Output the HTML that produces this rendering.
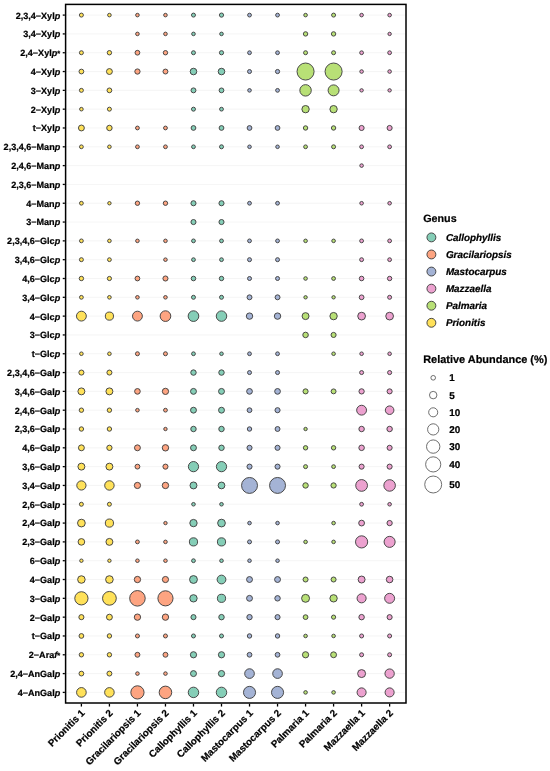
<!DOCTYPE html><html><head><meta charset="utf-8"><title>Bubble plot</title>
<style>html,body{margin:0;padding:0;background:#fff}svg{display:block}text{font-family:"Liberation Sans",Arial,sans-serif;font-weight:bold;fill:#000;stroke:#000;stroke-width:0.22px;text-rendering:geometricPrecision}.it{font-style:italic}</style></head><body>
<svg width="550" height="771" viewBox="0 0 550 771">
<rect width="550" height="771" fill="#fff"/>
<g stroke="#eeeeee" stroke-width="0.6">
<line x1="65.6" x2="406.0" y1="15.10" y2="15.10"/>
<line x1="65.6" x2="406.0" y1="33.91" y2="33.91"/>
<line x1="65.6" x2="406.0" y1="52.73" y2="52.73"/>
<line x1="65.6" x2="406.0" y1="71.54" y2="71.54"/>
<line x1="65.6" x2="406.0" y1="90.36" y2="90.36"/>
<line x1="65.6" x2="406.0" y1="109.17" y2="109.17"/>
<line x1="65.6" x2="406.0" y1="127.98" y2="127.98"/>
<line x1="65.6" x2="406.0" y1="146.80" y2="146.80"/>
<line x1="65.6" x2="406.0" y1="165.61" y2="165.61"/>
<line x1="65.6" x2="406.0" y1="184.43" y2="184.43"/>
<line x1="65.6" x2="406.0" y1="203.24" y2="203.24"/>
<line x1="65.6" x2="406.0" y1="222.05" y2="222.05"/>
<line x1="65.6" x2="406.0" y1="240.87" y2="240.87"/>
<line x1="65.6" x2="406.0" y1="259.68" y2="259.68"/>
<line x1="65.6" x2="406.0" y1="278.50" y2="278.50"/>
<line x1="65.6" x2="406.0" y1="297.31" y2="297.31"/>
<line x1="65.6" x2="406.0" y1="316.12" y2="316.12"/>
<line x1="65.6" x2="406.0" y1="334.94" y2="334.94"/>
<line x1="65.6" x2="406.0" y1="353.75" y2="353.75"/>
<line x1="65.6" x2="406.0" y1="372.57" y2="372.57"/>
<line x1="65.6" x2="406.0" y1="391.38" y2="391.38"/>
<line x1="65.6" x2="406.0" y1="410.19" y2="410.19"/>
<line x1="65.6" x2="406.0" y1="429.01" y2="429.01"/>
<line x1="65.6" x2="406.0" y1="447.82" y2="447.82"/>
<line x1="65.6" x2="406.0" y1="466.64" y2="466.64"/>
<line x1="65.6" x2="406.0" y1="485.45" y2="485.45"/>
<line x1="65.6" x2="406.0" y1="504.26" y2="504.26"/>
<line x1="65.6" x2="406.0" y1="523.08" y2="523.08"/>
<line x1="65.6" x2="406.0" y1="541.89" y2="541.89"/>
<line x1="65.6" x2="406.0" y1="560.71" y2="560.71"/>
<line x1="65.6" x2="406.0" y1="579.52" y2="579.52"/>
<line x1="65.6" x2="406.0" y1="598.33" y2="598.33"/>
<line x1="65.6" x2="406.0" y1="617.15" y2="617.15"/>
<line x1="65.6" x2="406.0" y1="635.96" y2="635.96"/>
<line x1="65.6" x2="406.0" y1="654.78" y2="654.78"/>
<line x1="65.6" x2="406.0" y1="673.59" y2="673.59"/>
<line x1="65.6" x2="406.0" y1="692.40" y2="692.40"/>
</g>
<g stroke="#404040" stroke-width="0.95">
<circle cx="81.40" cy="15.10" r="2.00" fill="#FFE159"/>
<circle cx="109.42" cy="15.10" r="1.80" fill="#FFE159"/>
<circle cx="137.44" cy="15.10" r="1.80" fill="#FDA481"/>
<circle cx="165.46" cy="15.10" r="1.80" fill="#FDA481"/>
<circle cx="193.48" cy="15.10" r="2.00" fill="#85CEB7"/>
<circle cx="221.50" cy="15.10" r="2.10" fill="#85CEB7"/>
<circle cx="249.52" cy="15.10" r="1.90" fill="#A4B3D5"/>
<circle cx="277.54" cy="15.10" r="1.90" fill="#A4B3D5"/>
<circle cx="305.56" cy="15.10" r="1.80" fill="#B8E076"/>
<circle cx="333.58" cy="15.10" r="2.00" fill="#B8E076"/>
<circle cx="361.60" cy="15.10" r="1.80" fill="#ECA1CF"/>
<circle cx="389.62" cy="15.10" r="1.80" fill="#ECA1CF"/>
<circle cx="137.44" cy="33.91" r="1.80" fill="#FDA481"/>
<circle cx="165.46" cy="33.91" r="1.80" fill="#FDA481"/>
<circle cx="193.48" cy="33.91" r="1.80" fill="#85CEB7"/>
<circle cx="221.50" cy="33.91" r="1.80" fill="#85CEB7"/>
<circle cx="305.56" cy="33.91" r="2.20" fill="#B8E076"/>
<circle cx="333.58" cy="33.91" r="2.20" fill="#B8E076"/>
<circle cx="389.62" cy="33.91" r="1.70" fill="#ECA1CF"/>
<circle cx="81.40" cy="52.73" r="2.00" fill="#FFE159"/>
<circle cx="109.42" cy="52.73" r="2.20" fill="#FFE159"/>
<circle cx="137.44" cy="52.73" r="2.38" fill="#FDA481"/>
<circle cx="165.46" cy="52.73" r="2.20" fill="#FDA481"/>
<circle cx="193.48" cy="52.73" r="2.00" fill="#85CEB7"/>
<circle cx="221.50" cy="52.73" r="2.10" fill="#85CEB7"/>
<circle cx="249.52" cy="52.73" r="1.90" fill="#A4B3D5"/>
<circle cx="277.54" cy="52.73" r="1.90" fill="#A4B3D5"/>
<circle cx="305.56" cy="52.73" r="2.00" fill="#B8E076"/>
<circle cx="333.58" cy="52.73" r="2.00" fill="#B8E076"/>
<circle cx="361.60" cy="52.73" r="1.90" fill="#ECA1CF"/>
<circle cx="389.62" cy="52.73" r="1.90" fill="#ECA1CF"/>
<circle cx="81.40" cy="71.54" r="2.38" fill="#FFE159"/>
<circle cx="109.42" cy="71.54" r="2.95" fill="#FFE159"/>
<circle cx="137.44" cy="71.54" r="2.64" fill="#FDA481"/>
<circle cx="165.46" cy="71.54" r="2.46" fill="#FDA481"/>
<circle cx="193.48" cy="71.54" r="3.30" fill="#85CEB7"/>
<circle cx="221.50" cy="71.54" r="3.30" fill="#85CEB7"/>
<circle cx="249.52" cy="71.54" r="2.00" fill="#A4B3D5"/>
<circle cx="277.54" cy="71.54" r="2.10" fill="#A4B3D5"/>
<circle cx="305.56" cy="71.54" r="8.53" fill="#B8E076"/>
<circle cx="333.58" cy="71.54" r="8.53" fill="#B8E076"/>
<circle cx="361.60" cy="71.54" r="1.80" fill="#ECA1CF"/>
<circle cx="389.62" cy="71.54" r="1.80" fill="#ECA1CF"/>
<circle cx="81.40" cy="90.36" r="2.00" fill="#FFE159"/>
<circle cx="109.42" cy="90.36" r="2.38" fill="#FFE159"/>
<circle cx="193.48" cy="90.36" r="2.46" fill="#85CEB7"/>
<circle cx="221.50" cy="90.36" r="2.38" fill="#85CEB7"/>
<circle cx="249.52" cy="90.36" r="1.80" fill="#A4B3D5"/>
<circle cx="277.54" cy="90.36" r="1.90" fill="#A4B3D5"/>
<circle cx="305.56" cy="90.36" r="5.73" fill="#B8E076"/>
<circle cx="333.58" cy="90.36" r="5.48" fill="#B8E076"/>
<circle cx="361.60" cy="90.36" r="1.70" fill="#ECA1CF"/>
<circle cx="389.62" cy="90.36" r="1.70" fill="#ECA1CF"/>
<circle cx="81.40" cy="109.17" r="1.80" fill="#FFE159"/>
<circle cx="109.42" cy="109.17" r="2.00" fill="#FFE159"/>
<circle cx="193.48" cy="109.17" r="2.00" fill="#85CEB7"/>
<circle cx="221.50" cy="109.17" r="1.90" fill="#85CEB7"/>
<circle cx="305.56" cy="109.17" r="3.68" fill="#B8E076"/>
<circle cx="333.58" cy="109.17" r="3.68" fill="#B8E076"/>
<circle cx="81.40" cy="127.98" r="2.95" fill="#FFE159"/>
<circle cx="109.42" cy="127.98" r="2.73" fill="#FFE159"/>
<circle cx="137.44" cy="127.98" r="1.90" fill="#FDA481"/>
<circle cx="165.46" cy="127.98" r="1.90" fill="#FDA481"/>
<circle cx="193.48" cy="127.98" r="2.38" fill="#85CEB7"/>
<circle cx="221.50" cy="127.98" r="2.38" fill="#85CEB7"/>
<circle cx="249.52" cy="127.98" r="2.38" fill="#A4B3D5"/>
<circle cx="277.54" cy="127.98" r="2.38" fill="#A4B3D5"/>
<circle cx="305.56" cy="127.98" r="2.20" fill="#B8E076"/>
<circle cx="333.58" cy="127.98" r="2.20" fill="#B8E076"/>
<circle cx="361.60" cy="127.98" r="2.55" fill="#ECA1CF"/>
<circle cx="389.62" cy="127.98" r="2.55" fill="#ECA1CF"/>
<circle cx="81.40" cy="146.80" r="1.90" fill="#FFE159"/>
<circle cx="109.42" cy="146.80" r="1.80" fill="#FFE159"/>
<circle cx="137.44" cy="146.80" r="1.90" fill="#FDA481"/>
<circle cx="165.46" cy="146.80" r="1.90" fill="#FDA481"/>
<circle cx="193.48" cy="146.80" r="1.90" fill="#85CEB7"/>
<circle cx="221.50" cy="146.80" r="2.00" fill="#85CEB7"/>
<circle cx="249.52" cy="146.80" r="1.80" fill="#A4B3D5"/>
<circle cx="277.54" cy="146.80" r="1.80" fill="#A4B3D5"/>
<circle cx="305.56" cy="146.80" r="1.90" fill="#B8E076"/>
<circle cx="333.58" cy="146.80" r="2.00" fill="#B8E076"/>
<circle cx="361.60" cy="146.80" r="1.90" fill="#ECA1CF"/>
<circle cx="389.62" cy="146.80" r="1.90" fill="#ECA1CF"/>
<circle cx="361.60" cy="165.61" r="1.80" fill="#ECA1CF"/>
<circle cx="81.40" cy="203.24" r="1.90" fill="#FFE159"/>
<circle cx="109.42" cy="203.24" r="1.70" fill="#FFE159"/>
<circle cx="137.44" cy="203.24" r="2.20" fill="#FDA481"/>
<circle cx="165.46" cy="203.24" r="2.20" fill="#FDA481"/>
<circle cx="193.48" cy="203.24" r="2.55" fill="#85CEB7"/>
<circle cx="221.50" cy="203.24" r="2.55" fill="#85CEB7"/>
<circle cx="249.52" cy="203.24" r="1.90" fill="#A4B3D5"/>
<circle cx="277.54" cy="203.24" r="1.90" fill="#A4B3D5"/>
<circle cx="361.60" cy="203.24" r="1.80" fill="#ECA1CF"/>
<circle cx="389.62" cy="203.24" r="1.80" fill="#ECA1CF"/>
<circle cx="193.48" cy="222.05" r="2.55" fill="#85CEB7"/>
<circle cx="221.50" cy="222.05" r="2.55" fill="#85CEB7"/>
<circle cx="81.40" cy="240.87" r="1.90" fill="#FFE159"/>
<circle cx="109.42" cy="240.87" r="1.80" fill="#FFE159"/>
<circle cx="137.44" cy="240.87" r="1.80" fill="#FDA481"/>
<circle cx="165.46" cy="240.87" r="1.80" fill="#FDA481"/>
<circle cx="193.48" cy="240.87" r="1.90" fill="#85CEB7"/>
<circle cx="221.50" cy="240.87" r="1.90" fill="#85CEB7"/>
<circle cx="249.52" cy="240.87" r="1.90" fill="#A4B3D5"/>
<circle cx="277.54" cy="240.87" r="1.90" fill="#A4B3D5"/>
<circle cx="305.56" cy="240.87" r="1.80" fill="#B8E076"/>
<circle cx="333.58" cy="240.87" r="1.80" fill="#B8E076"/>
<circle cx="361.60" cy="240.87" r="1.90" fill="#ECA1CF"/>
<circle cx="389.62" cy="240.87" r="1.90" fill="#ECA1CF"/>
<circle cx="81.40" cy="259.68" r="2.00" fill="#FFE159"/>
<circle cx="109.42" cy="259.68" r="1.90" fill="#FFE159"/>
<circle cx="165.46" cy="259.68" r="1.80" fill="#FDA481"/>
<circle cx="193.48" cy="259.68" r="1.90" fill="#85CEB7"/>
<circle cx="221.50" cy="259.68" r="1.90" fill="#85CEB7"/>
<circle cx="249.52" cy="259.68" r="2.00" fill="#A4B3D5"/>
<circle cx="277.54" cy="259.68" r="2.00" fill="#A4B3D5"/>
<circle cx="361.60" cy="259.68" r="1.95" fill="#ECA1CF"/>
<circle cx="389.62" cy="259.68" r="1.90" fill="#ECA1CF"/>
<circle cx="81.40" cy="278.50" r="2.20" fill="#FFE159"/>
<circle cx="109.42" cy="278.50" r="2.10" fill="#FFE159"/>
<circle cx="137.44" cy="278.50" r="2.38" fill="#FDA481"/>
<circle cx="165.46" cy="278.50" r="2.55" fill="#FDA481"/>
<circle cx="193.48" cy="278.50" r="2.29" fill="#85CEB7"/>
<circle cx="221.50" cy="278.50" r="2.20" fill="#85CEB7"/>
<circle cx="249.52" cy="278.50" r="2.00" fill="#A4B3D5"/>
<circle cx="277.54" cy="278.50" r="2.00" fill="#A4B3D5"/>
<circle cx="305.56" cy="278.50" r="1.80" fill="#B8E076"/>
<circle cx="333.58" cy="278.50" r="1.90" fill="#B8E076"/>
<circle cx="361.60" cy="278.50" r="2.29" fill="#ECA1CF"/>
<circle cx="389.62" cy="278.50" r="2.20" fill="#ECA1CF"/>
<circle cx="81.40" cy="297.31" r="1.90" fill="#FFE159"/>
<circle cx="109.42" cy="297.31" r="1.80" fill="#FFE159"/>
<circle cx="137.44" cy="297.31" r="1.80" fill="#FDA481"/>
<circle cx="165.46" cy="297.31" r="1.80" fill="#FDA481"/>
<circle cx="193.48" cy="297.31" r="2.00" fill="#85CEB7"/>
<circle cx="221.50" cy="297.31" r="2.00" fill="#85CEB7"/>
<circle cx="249.52" cy="297.31" r="2.46" fill="#A4B3D5"/>
<circle cx="277.54" cy="297.31" r="2.46" fill="#A4B3D5"/>
<circle cx="305.56" cy="297.31" r="1.70" fill="#B8E076"/>
<circle cx="333.58" cy="297.31" r="1.70" fill="#B8E076"/>
<circle cx="361.60" cy="297.31" r="2.38" fill="#ECA1CF"/>
<circle cx="389.62" cy="297.31" r="2.00" fill="#ECA1CF"/>
<circle cx="81.40" cy="316.12" r="4.93" fill="#FFE159"/>
<circle cx="109.42" cy="316.12" r="4.08" fill="#FFE159"/>
<circle cx="137.44" cy="316.12" r="4.93" fill="#FDA481"/>
<circle cx="165.46" cy="316.12" r="5.33" fill="#FDA481"/>
<circle cx="193.48" cy="316.12" r="5.33" fill="#85CEB7"/>
<circle cx="221.50" cy="316.12" r="5.23" fill="#85CEB7"/>
<circle cx="249.52" cy="316.12" r="3.21" fill="#A4B3D5"/>
<circle cx="277.54" cy="316.12" r="3.21" fill="#A4B3D5"/>
<circle cx="305.56" cy="316.12" r="3.48" fill="#B8E076"/>
<circle cx="333.58" cy="316.12" r="3.68" fill="#B8E076"/>
<circle cx="361.60" cy="316.12" r="3.87" fill="#ECA1CF"/>
<circle cx="389.62" cy="316.12" r="3.87" fill="#ECA1CF"/>
<circle cx="305.56" cy="334.94" r="2.77" fill="#B8E076"/>
<circle cx="333.58" cy="334.94" r="2.55" fill="#B8E076"/>
<circle cx="81.40" cy="353.75" r="1.80" fill="#FFE159"/>
<circle cx="109.42" cy="353.75" r="1.80" fill="#FFE159"/>
<circle cx="137.44" cy="353.75" r="2.00" fill="#FDA481"/>
<circle cx="165.46" cy="353.75" r="2.00" fill="#FDA481"/>
<circle cx="193.48" cy="353.75" r="1.90" fill="#85CEB7"/>
<circle cx="221.50" cy="353.75" r="1.80" fill="#85CEB7"/>
<circle cx="249.52" cy="353.75" r="1.90" fill="#A4B3D5"/>
<circle cx="277.54" cy="353.75" r="1.90" fill="#A4B3D5"/>
<circle cx="333.58" cy="353.75" r="1.80" fill="#B8E076"/>
<circle cx="361.60" cy="353.75" r="1.80" fill="#ECA1CF"/>
<circle cx="389.62" cy="353.75" r="1.80" fill="#ECA1CF"/>
<circle cx="81.40" cy="372.57" r="2.55" fill="#FFE159"/>
<circle cx="109.42" cy="372.57" r="2.51" fill="#FFE159"/>
<circle cx="193.48" cy="372.57" r="2.73" fill="#85CEB7"/>
<circle cx="221.50" cy="372.57" r="2.73" fill="#85CEB7"/>
<circle cx="249.52" cy="372.57" r="2.00" fill="#A4B3D5"/>
<circle cx="277.54" cy="372.57" r="2.00" fill="#A4B3D5"/>
<circle cx="361.60" cy="372.57" r="2.00" fill="#ECA1CF"/>
<circle cx="389.62" cy="372.57" r="2.05" fill="#ECA1CF"/>
<circle cx="81.40" cy="391.38" r="3.48" fill="#FFE159"/>
<circle cx="109.42" cy="391.38" r="3.48" fill="#FFE159"/>
<circle cx="137.44" cy="391.38" r="2.82" fill="#FDA481"/>
<circle cx="165.46" cy="391.38" r="3.12" fill="#FDA481"/>
<circle cx="193.48" cy="391.38" r="2.95" fill="#85CEB7"/>
<circle cx="221.50" cy="391.38" r="2.95" fill="#85CEB7"/>
<circle cx="249.52" cy="391.38" r="2.86" fill="#A4B3D5"/>
<circle cx="277.54" cy="391.38" r="2.86" fill="#A4B3D5"/>
<circle cx="305.56" cy="391.38" r="2.55" fill="#B8E076"/>
<circle cx="333.58" cy="391.38" r="2.46" fill="#B8E076"/>
<circle cx="361.60" cy="391.38" r="2.64" fill="#ECA1CF"/>
<circle cx="389.62" cy="391.38" r="2.55" fill="#ECA1CF"/>
<circle cx="81.40" cy="410.19" r="2.20" fill="#FFE159"/>
<circle cx="109.42" cy="410.19" r="2.20" fill="#FFE159"/>
<circle cx="137.44" cy="410.19" r="1.80" fill="#FDA481"/>
<circle cx="165.46" cy="410.19" r="1.90" fill="#FDA481"/>
<circle cx="193.48" cy="410.19" r="2.95" fill="#85CEB7"/>
<circle cx="221.50" cy="410.19" r="2.95" fill="#85CEB7"/>
<circle cx="249.52" cy="410.19" r="2.38" fill="#A4B3D5"/>
<circle cx="277.54" cy="410.19" r="2.55" fill="#A4B3D5"/>
<circle cx="361.60" cy="410.19" r="4.93" fill="#ECA1CF"/>
<circle cx="389.62" cy="410.19" r="4.28" fill="#ECA1CF"/>
<circle cx="81.40" cy="429.01" r="2.20" fill="#FFE159"/>
<circle cx="109.42" cy="429.01" r="2.20" fill="#FFE159"/>
<circle cx="165.46" cy="429.01" r="1.70" fill="#FDA481"/>
<circle cx="193.48" cy="429.01" r="2.73" fill="#85CEB7"/>
<circle cx="221.50" cy="429.01" r="2.73" fill="#85CEB7"/>
<circle cx="249.52" cy="429.01" r="2.20" fill="#A4B3D5"/>
<circle cx="277.54" cy="429.01" r="2.46" fill="#A4B3D5"/>
<circle cx="305.56" cy="429.01" r="1.70" fill="#B8E076"/>
<circle cx="361.60" cy="429.01" r="2.73" fill="#ECA1CF"/>
<circle cx="389.62" cy="429.01" r="2.73" fill="#ECA1CF"/>
<circle cx="81.40" cy="447.82" r="2.95" fill="#FFE159"/>
<circle cx="109.42" cy="447.82" r="2.64" fill="#FFE159"/>
<circle cx="137.44" cy="447.82" r="2.95" fill="#FDA481"/>
<circle cx="165.46" cy="447.82" r="3.21" fill="#FDA481"/>
<circle cx="193.48" cy="447.82" r="2.95" fill="#85CEB7"/>
<circle cx="221.50" cy="447.82" r="2.73" fill="#85CEB7"/>
<circle cx="249.52" cy="447.82" r="2.55" fill="#A4B3D5"/>
<circle cx="277.54" cy="447.82" r="2.55" fill="#A4B3D5"/>
<circle cx="305.56" cy="447.82" r="2.20" fill="#B8E076"/>
<circle cx="333.58" cy="447.82" r="2.20" fill="#B8E076"/>
<circle cx="361.60" cy="447.82" r="2.77" fill="#ECA1CF"/>
<circle cx="389.62" cy="447.82" r="2.55" fill="#ECA1CF"/>
<circle cx="81.40" cy="466.64" r="3.48" fill="#FFE159"/>
<circle cx="109.42" cy="466.64" r="3.48" fill="#FFE159"/>
<circle cx="137.44" cy="466.64" r="2.42" fill="#FDA481"/>
<circle cx="165.46" cy="466.64" r="2.55" fill="#FDA481"/>
<circle cx="193.48" cy="466.64" r="5.12" fill="#85CEB7"/>
<circle cx="221.50" cy="466.64" r="5.12" fill="#85CEB7"/>
<circle cx="249.52" cy="466.64" r="2.55" fill="#A4B3D5"/>
<circle cx="277.54" cy="466.64" r="2.55" fill="#A4B3D5"/>
<circle cx="305.56" cy="466.64" r="2.00" fill="#B8E076"/>
<circle cx="333.58" cy="466.64" r="1.90" fill="#B8E076"/>
<circle cx="361.60" cy="466.64" r="2.55" fill="#ECA1CF"/>
<circle cx="389.62" cy="466.64" r="2.55" fill="#ECA1CF"/>
<circle cx="81.40" cy="485.45" r="4.62" fill="#FFE159"/>
<circle cx="109.42" cy="485.45" r="4.73" fill="#FFE159"/>
<circle cx="137.44" cy="485.45" r="3.12" fill="#FDA481"/>
<circle cx="165.46" cy="485.45" r="3.21" fill="#FDA481"/>
<circle cx="193.48" cy="485.45" r="3.48" fill="#85CEB7"/>
<circle cx="221.50" cy="485.45" r="3.39" fill="#85CEB7"/>
<circle cx="249.52" cy="485.45" r="7.97" fill="#A4B3D5"/>
<circle cx="277.54" cy="485.45" r="7.97" fill="#A4B3D5"/>
<circle cx="305.56" cy="485.45" r="2.73" fill="#B8E076"/>
<circle cx="333.58" cy="485.45" r="2.64" fill="#B8E076"/>
<circle cx="361.60" cy="485.45" r="5.88" fill="#ECA1CF"/>
<circle cx="389.62" cy="485.45" r="5.78" fill="#ECA1CF"/>
<circle cx="81.40" cy="504.26" r="2.00" fill="#FFE159"/>
<circle cx="109.42" cy="504.26" r="2.00" fill="#FFE159"/>
<circle cx="193.48" cy="504.26" r="1.80" fill="#85CEB7"/>
<circle cx="221.50" cy="504.26" r="1.80" fill="#85CEB7"/>
<circle cx="361.60" cy="504.26" r="1.90" fill="#ECA1CF"/>
<circle cx="389.62" cy="504.26" r="1.80" fill="#ECA1CF"/>
<circle cx="81.40" cy="523.08" r="3.87" fill="#FFE159"/>
<circle cx="109.42" cy="523.08" r="4.08" fill="#FFE159"/>
<circle cx="165.46" cy="523.08" r="1.70" fill="#FDA481"/>
<circle cx="193.48" cy="523.08" r="3.68" fill="#85CEB7"/>
<circle cx="221.50" cy="523.08" r="3.87" fill="#85CEB7"/>
<circle cx="249.52" cy="523.08" r="1.80" fill="#A4B3D5"/>
<circle cx="277.54" cy="523.08" r="1.80" fill="#A4B3D5"/>
<circle cx="333.58" cy="523.08" r="1.80" fill="#B8E076"/>
<circle cx="361.60" cy="523.08" r="2.90" fill="#ECA1CF"/>
<circle cx="389.62" cy="523.08" r="2.64" fill="#ECA1CF"/>
<circle cx="81.40" cy="541.89" r="3.30" fill="#FFE159"/>
<circle cx="109.42" cy="541.89" r="3.48" fill="#FFE159"/>
<circle cx="137.44" cy="541.89" r="1.90" fill="#FDA481"/>
<circle cx="165.46" cy="541.89" r="1.80" fill="#FDA481"/>
<circle cx="193.48" cy="541.89" r="4.08" fill="#85CEB7"/>
<circle cx="221.50" cy="541.89" r="4.08" fill="#85CEB7"/>
<circle cx="249.52" cy="541.89" r="2.00" fill="#A4B3D5"/>
<circle cx="277.54" cy="541.89" r="2.00" fill="#A4B3D5"/>
<circle cx="305.56" cy="541.89" r="1.80" fill="#B8E076"/>
<circle cx="333.58" cy="541.89" r="1.80" fill="#B8E076"/>
<circle cx="361.60" cy="541.89" r="6.08" fill="#ECA1CF"/>
<circle cx="389.62" cy="541.89" r="5.53" fill="#ECA1CF"/>
<circle cx="81.40" cy="560.71" r="1.70" fill="#FFE159"/>
<circle cx="109.42" cy="560.71" r="1.70" fill="#FFE159"/>
<circle cx="137.44" cy="560.71" r="1.80" fill="#FDA481"/>
<circle cx="165.46" cy="560.71" r="1.80" fill="#FDA481"/>
<circle cx="193.48" cy="560.71" r="1.90" fill="#85CEB7"/>
<circle cx="221.50" cy="560.71" r="1.80" fill="#85CEB7"/>
<circle cx="249.52" cy="560.71" r="1.80" fill="#A4B3D5"/>
<circle cx="277.54" cy="560.71" r="1.80" fill="#A4B3D5"/>
<circle cx="81.40" cy="579.52" r="3.77" fill="#FFE159"/>
<circle cx="109.42" cy="579.52" r="3.82" fill="#FFE159"/>
<circle cx="137.44" cy="579.52" r="3.17" fill="#FDA481"/>
<circle cx="165.46" cy="579.52" r="3.08" fill="#FDA481"/>
<circle cx="193.48" cy="579.52" r="3.93" fill="#85CEB7"/>
<circle cx="221.50" cy="579.52" r="4.38" fill="#85CEB7"/>
<circle cx="249.52" cy="579.52" r="2.95" fill="#A4B3D5"/>
<circle cx="277.54" cy="579.52" r="2.95" fill="#A4B3D5"/>
<circle cx="305.56" cy="579.52" r="2.51" fill="#B8E076"/>
<circle cx="333.58" cy="579.52" r="2.51" fill="#B8E076"/>
<circle cx="361.60" cy="579.52" r="3.48" fill="#ECA1CF"/>
<circle cx="389.62" cy="579.52" r="3.30" fill="#ECA1CF"/>
<circle cx="81.40" cy="598.33" r="6.62" fill="#FFE159"/>
<circle cx="109.42" cy="598.33" r="6.88" fill="#FFE159"/>
<circle cx="137.44" cy="598.33" r="7.78" fill="#FDA481"/>
<circle cx="165.46" cy="598.33" r="7.58" fill="#FDA481"/>
<circle cx="193.48" cy="598.33" r="3.68" fill="#85CEB7"/>
<circle cx="221.50" cy="598.33" r="4.08" fill="#85CEB7"/>
<circle cx="249.52" cy="598.33" r="2.95" fill="#A4B3D5"/>
<circle cx="277.54" cy="598.33" r="2.73" fill="#A4B3D5"/>
<circle cx="305.56" cy="598.33" r="3.98" fill="#B8E076"/>
<circle cx="333.58" cy="598.33" r="3.68" fill="#B8E076"/>
<circle cx="361.60" cy="598.33" r="4.53" fill="#ECA1CF"/>
<circle cx="389.62" cy="598.33" r="4.98" fill="#ECA1CF"/>
<circle cx="81.40" cy="617.15" r="2.55" fill="#FFE159"/>
<circle cx="109.42" cy="617.15" r="2.95" fill="#FFE159"/>
<circle cx="137.44" cy="617.15" r="3.17" fill="#FDA481"/>
<circle cx="165.46" cy="617.15" r="3.17" fill="#FDA481"/>
<circle cx="193.48" cy="617.15" r="2.55" fill="#85CEB7"/>
<circle cx="221.50" cy="617.15" r="2.73" fill="#85CEB7"/>
<circle cx="249.52" cy="617.15" r="2.68" fill="#A4B3D5"/>
<circle cx="277.54" cy="617.15" r="2.55" fill="#A4B3D5"/>
<circle cx="305.56" cy="617.15" r="2.38" fill="#B8E076"/>
<circle cx="333.58" cy="617.15" r="2.10" fill="#B8E076"/>
<circle cx="361.60" cy="617.15" r="2.73" fill="#ECA1CF"/>
<circle cx="389.62" cy="617.15" r="2.55" fill="#ECA1CF"/>
<circle cx="81.40" cy="635.96" r="2.38" fill="#FFE159"/>
<circle cx="109.42" cy="635.96" r="2.20" fill="#FFE159"/>
<circle cx="137.44" cy="635.96" r="2.00" fill="#FDA481"/>
<circle cx="165.46" cy="635.96" r="2.00" fill="#FDA481"/>
<circle cx="193.48" cy="635.96" r="2.00" fill="#85CEB7"/>
<circle cx="221.50" cy="635.96" r="2.00" fill="#85CEB7"/>
<circle cx="249.52" cy="635.96" r="2.20" fill="#A4B3D5"/>
<circle cx="277.54" cy="635.96" r="2.20" fill="#A4B3D5"/>
<circle cx="305.56" cy="635.96" r="1.80" fill="#B8E076"/>
<circle cx="333.58" cy="635.96" r="1.80" fill="#B8E076"/>
<circle cx="361.60" cy="635.96" r="2.00" fill="#ECA1CF"/>
<circle cx="389.62" cy="635.96" r="2.00" fill="#ECA1CF"/>
<circle cx="81.40" cy="654.78" r="2.20" fill="#FFE159"/>
<circle cx="109.42" cy="654.78" r="2.20" fill="#FFE159"/>
<circle cx="137.44" cy="654.78" r="2.46" fill="#FDA481"/>
<circle cx="165.46" cy="654.78" r="2.46" fill="#FDA481"/>
<circle cx="193.48" cy="654.78" r="3.12" fill="#85CEB7"/>
<circle cx="221.50" cy="654.78" r="3.12" fill="#85CEB7"/>
<circle cx="249.52" cy="654.78" r="2.38" fill="#A4B3D5"/>
<circle cx="277.54" cy="654.78" r="2.38" fill="#A4B3D5"/>
<circle cx="305.56" cy="654.78" r="3.12" fill="#B8E076"/>
<circle cx="333.58" cy="654.78" r="2.95" fill="#B8E076"/>
<circle cx="361.60" cy="654.78" r="2.00" fill="#ECA1CF"/>
<circle cx="389.62" cy="654.78" r="2.00" fill="#ECA1CF"/>
<circle cx="81.40" cy="673.59" r="2.38" fill="#FFE159"/>
<circle cx="109.42" cy="673.59" r="2.46" fill="#FFE159"/>
<circle cx="137.44" cy="673.59" r="1.80" fill="#FDA481"/>
<circle cx="165.46" cy="673.59" r="1.80" fill="#FDA481"/>
<circle cx="193.48" cy="673.59" r="2.99" fill="#85CEB7"/>
<circle cx="221.50" cy="673.59" r="3.12" fill="#85CEB7"/>
<circle cx="249.52" cy="673.59" r="4.83" fill="#A4B3D5"/>
<circle cx="277.54" cy="673.59" r="4.83" fill="#A4B3D5"/>
<circle cx="361.60" cy="673.59" r="3.98" fill="#ECA1CF"/>
<circle cx="389.62" cy="673.59" r="4.68" fill="#ECA1CF"/>
<circle cx="81.40" cy="692.40" r="4.83" fill="#FFE159"/>
<circle cx="109.42" cy="692.40" r="4.78" fill="#FFE159"/>
<circle cx="137.44" cy="692.40" r="6.62" fill="#FDA481"/>
<circle cx="165.46" cy="692.40" r="6.28" fill="#FDA481"/>
<circle cx="193.48" cy="692.40" r="5.23" fill="#85CEB7"/>
<circle cx="221.50" cy="692.40" r="5.23" fill="#85CEB7"/>
<circle cx="249.52" cy="692.40" r="6.03" fill="#A4B3D5"/>
<circle cx="277.54" cy="692.40" r="6.03" fill="#A4B3D5"/>
<circle cx="305.56" cy="692.40" r="1.80" fill="#B8E076"/>
<circle cx="333.58" cy="692.40" r="1.80" fill="#B8E076"/>
<circle cx="361.60" cy="692.40" r="4.53" fill="#ECA1CF"/>
<circle cx="389.62" cy="692.40" r="4.53" fill="#ECA1CF"/>
</g>
<rect x="65.6" y="4.4" width="340.4" height="698.6" fill="none" stroke="#000" stroke-width="1.5"/>
<g stroke="#000" stroke-width="1.3">
<line x1="62.75" x2="64.85" y1="15.10" y2="15.10"/>
<line x1="62.75" x2="64.85" y1="33.91" y2="33.91"/>
<line x1="62.75" x2="64.85" y1="52.73" y2="52.73"/>
<line x1="62.75" x2="64.85" y1="71.54" y2="71.54"/>
<line x1="62.75" x2="64.85" y1="90.36" y2="90.36"/>
<line x1="62.75" x2="64.85" y1="109.17" y2="109.17"/>
<line x1="62.75" x2="64.85" y1="127.98" y2="127.98"/>
<line x1="62.75" x2="64.85" y1="146.80" y2="146.80"/>
<line x1="62.75" x2="64.85" y1="165.61" y2="165.61"/>
<line x1="62.75" x2="64.85" y1="184.43" y2="184.43"/>
<line x1="62.75" x2="64.85" y1="203.24" y2="203.24"/>
<line x1="62.75" x2="64.85" y1="222.05" y2="222.05"/>
<line x1="62.75" x2="64.85" y1="240.87" y2="240.87"/>
<line x1="62.75" x2="64.85" y1="259.68" y2="259.68"/>
<line x1="62.75" x2="64.85" y1="278.50" y2="278.50"/>
<line x1="62.75" x2="64.85" y1="297.31" y2="297.31"/>
<line x1="62.75" x2="64.85" y1="316.12" y2="316.12"/>
<line x1="62.75" x2="64.85" y1="334.94" y2="334.94"/>
<line x1="62.75" x2="64.85" y1="353.75" y2="353.75"/>
<line x1="62.75" x2="64.85" y1="372.57" y2="372.57"/>
<line x1="62.75" x2="64.85" y1="391.38" y2="391.38"/>
<line x1="62.75" x2="64.85" y1="410.19" y2="410.19"/>
<line x1="62.75" x2="64.85" y1="429.01" y2="429.01"/>
<line x1="62.75" x2="64.85" y1="447.82" y2="447.82"/>
<line x1="62.75" x2="64.85" y1="466.64" y2="466.64"/>
<line x1="62.75" x2="64.85" y1="485.45" y2="485.45"/>
<line x1="62.75" x2="64.85" y1="504.26" y2="504.26"/>
<line x1="62.75" x2="64.85" y1="523.08" y2="523.08"/>
<line x1="62.75" x2="64.85" y1="541.89" y2="541.89"/>
<line x1="62.75" x2="64.85" y1="560.71" y2="560.71"/>
<line x1="62.75" x2="64.85" y1="579.52" y2="579.52"/>
<line x1="62.75" x2="64.85" y1="598.33" y2="598.33"/>
<line x1="62.75" x2="64.85" y1="617.15" y2="617.15"/>
<line x1="62.75" x2="64.85" y1="635.96" y2="635.96"/>
<line x1="62.75" x2="64.85" y1="654.78" y2="654.78"/>
<line x1="62.75" x2="64.85" y1="673.59" y2="673.59"/>
<line x1="62.75" x2="64.85" y1="692.40" y2="692.40"/>
<line x1="81.40" x2="81.40" y1="703.75" y2="706.55"/>
<line x1="109.42" x2="109.42" y1="703.75" y2="706.55"/>
<line x1="137.44" x2="137.44" y1="703.75" y2="706.55"/>
<line x1="165.46" x2="165.46" y1="703.75" y2="706.55"/>
<line x1="193.48" x2="193.48" y1="703.75" y2="706.55"/>
<line x1="221.50" x2="221.50" y1="703.75" y2="706.55"/>
<line x1="249.52" x2="249.52" y1="703.75" y2="706.55"/>
<line x1="277.54" x2="277.54" y1="703.75" y2="706.55"/>
<line x1="305.56" x2="305.56" y1="703.75" y2="706.55"/>
<line x1="333.58" x2="333.58" y1="703.75" y2="706.55"/>
<line x1="361.60" x2="361.60" y1="703.75" y2="706.55"/>
<line x1="389.62" x2="389.62" y1="703.75" y2="706.55"/>
</g>
<g font-size="9.05" text-anchor="end">
<text x="60.2" y="18.50">2,3,4−Xyl<tspan class="it">p</tspan></text>
<text x="60.2" y="37.31">3,4−Xyl<tspan class="it">p</tspan></text>
<text x="60.2" y="56.13">2,4−Xyl<tspan class="it">p</tspan><tspan font-size="7.6" dy="-0.6">*</tspan></text>
<text x="60.2" y="74.94">4−Xyl<tspan class="it">p</tspan></text>
<text x="60.2" y="93.76">3−Xyl<tspan class="it">p</tspan></text>
<text x="60.2" y="112.57">2−Xyl<tspan class="it">p</tspan></text>
<text x="60.2" y="131.38">t−Xyl<tspan class="it">p</tspan></text>
<text x="60.2" y="150.20">2,3,4,6−Man<tspan class="it">p</tspan></text>
<text x="60.2" y="169.01">2,4,6−Man<tspan class="it">p</tspan></text>
<text x="60.2" y="187.83">2,3,6−Man<tspan class="it">p</tspan></text>
<text x="60.2" y="206.64">4−Man<tspan class="it">p</tspan></text>
<text x="60.2" y="225.45">3−Man<tspan class="it">p</tspan></text>
<text x="60.2" y="244.27">2,3,4,6−Glc<tspan class="it">p</tspan></text>
<text x="60.2" y="263.08">3,4,6−Glc<tspan class="it">p</tspan></text>
<text x="60.2" y="281.90">4,6−Glc<tspan class="it">p</tspan></text>
<text x="60.2" y="300.71">3,4−Glc<tspan class="it">p</tspan></text>
<text x="60.2" y="319.52">4−Glc<tspan class="it">p</tspan></text>
<text x="60.2" y="338.34">3−Glc<tspan class="it">p</tspan></text>
<text x="60.2" y="357.15">t−Glc<tspan class="it">p</tspan></text>
<text x="60.2" y="375.97">2,3,4,6−Gal<tspan class="it">p</tspan></text>
<text x="60.2" y="394.78">3,4,6−Gal<tspan class="it">p</tspan></text>
<text x="60.2" y="413.59">2,4,6−Gal<tspan class="it">p</tspan></text>
<text x="60.2" y="432.41">2,3,6−Gal<tspan class="it">p</tspan></text>
<text x="60.2" y="451.22">4,6−Gal<tspan class="it">p</tspan></text>
<text x="60.2" y="470.04">3,6−Gal<tspan class="it">p</tspan></text>
<text x="60.2" y="488.85">3,4−Gal<tspan class="it">p</tspan></text>
<text x="60.2" y="507.66">2,6−Gal<tspan class="it">p</tspan></text>
<text x="60.2" y="526.48">2,4−Gal<tspan class="it">p</tspan></text>
<text x="60.2" y="545.29">2,3−Gal<tspan class="it">p</tspan></text>
<text x="60.2" y="564.11">6−Gal<tspan class="it">p</tspan></text>
<text x="60.2" y="582.92">4−Gal<tspan class="it">p</tspan></text>
<text x="60.2" y="601.73">3−Gal<tspan class="it">p</tspan></text>
<text x="60.2" y="620.55">2−Gal<tspan class="it">p</tspan></text>
<text x="60.2" y="639.36">t−Gal<tspan class="it">p</tspan></text>
<text x="60.2" y="658.18">2−Ara<tspan class="it">f</tspan><tspan font-size="7.6" dy="-0.6">*</tspan></text>
<text x="60.2" y="676.99">2,4−AnGal<tspan class="it">p</tspan></text>
<text x="60.2" y="695.80">4−AnGal<tspan class="it">p</tspan></text>
</g>
<g font-size="9.8" text-anchor="end">
<text transform="translate(85.40,713.70) rotate(-45)">Prionitis 1</text>
<text transform="translate(113.42,713.70) rotate(-45)">Prionitis 2</text>
<text transform="translate(141.44,713.70) rotate(-45)">Gracilariopsis 1</text>
<text transform="translate(169.46,713.70) rotate(-45)">Gracilariopsis 2</text>
<text transform="translate(197.48,713.70) rotate(-45)">Callophyllis 1</text>
<text transform="translate(225.50,713.70) rotate(-45)">Callophyllis 2</text>
<text transform="translate(253.52,713.70) rotate(-45)">Mastocarpus 1</text>
<text transform="translate(281.54,713.70) rotate(-45)">Mastocarpus 2</text>
<text transform="translate(309.56,713.70) rotate(-45)">Palmaria 1</text>
<text transform="translate(337.58,713.70) rotate(-45)">Palmaria 2</text>
<text transform="translate(365.60,713.70) rotate(-45)">Mazzaella 1</text>
<text transform="translate(393.62,713.70) rotate(-45)">Mazzaella 2</text>
</g>
<text x="423.2" y="221.8" font-size="10.75">Genus</text>
<circle cx="431.4" cy="237.40" r="4.45" fill="#85CEB7" stroke="#404040" stroke-width="0.95"/>
<text class="it" x="445.9" y="240.80" font-size="9.88">Callophyllis</text>
<circle cx="431.4" cy="254.48" r="4.45" fill="#FDA481" stroke="#404040" stroke-width="0.95"/>
<text class="it" x="445.9" y="257.88" font-size="9.88">Gracilariopsis</text>
<circle cx="431.4" cy="271.56" r="4.45" fill="#A4B3D5" stroke="#404040" stroke-width="0.95"/>
<text class="it" x="445.9" y="274.96" font-size="9.88">Mastocarpus</text>
<circle cx="431.4" cy="288.64" r="4.45" fill="#ECA1CF" stroke="#404040" stroke-width="0.95"/>
<text class="it" x="445.9" y="292.04" font-size="9.88">Mazzaella</text>
<circle cx="431.4" cy="305.72" r="4.45" fill="#B8E076" stroke="#404040" stroke-width="0.95"/>
<text class="it" x="445.9" y="309.12" font-size="9.88">Palmaria</text>
<circle cx="431.4" cy="322.80" r="4.45" fill="#FFE159" stroke="#404040" stroke-width="0.95"/>
<text class="it" x="445.9" y="326.20" font-size="9.88">Prionitis</text>
<text x="423.2" y="362.8" font-size="10.95">Relative Abundance (%)</text>
<circle cx="433.2" cy="377.8" r="2.32" fill="#fff" stroke="#555" stroke-width="0.85"/>
<text x="449.2" y="381.30" font-size="9.9">1</text>
<circle cx="433.2" cy="395.1" r="3.73" fill="#fff" stroke="#555" stroke-width="0.85"/>
<text x="449.2" y="398.60" font-size="9.9">5</text>
<circle cx="433.2" cy="412.3" r="4.53" fill="#fff" stroke="#555" stroke-width="0.85"/>
<text x="449.2" y="415.80" font-size="9.9">10</text>
<circle cx="433.2" cy="429.4" r="5.62" fill="#fff" stroke="#555" stroke-width="0.85"/>
<text x="449.2" y="432.90" font-size="9.9">20</text>
<circle cx="433.2" cy="446.6" r="6.68" fill="#fff" stroke="#555" stroke-width="0.85"/>
<text x="449.2" y="450.10" font-size="9.9">30</text>
<circle cx="433.2" cy="464.4" r="7.58" fill="#fff" stroke="#555" stroke-width="0.85"/>
<text x="449.2" y="467.90" font-size="9.9">40</text>
<circle cx="433.2" cy="484.5" r="8.47" fill="#fff" stroke="#555" stroke-width="0.85"/>
<text x="449.2" y="488.00" font-size="9.9">50</text>
</svg></body></html>
